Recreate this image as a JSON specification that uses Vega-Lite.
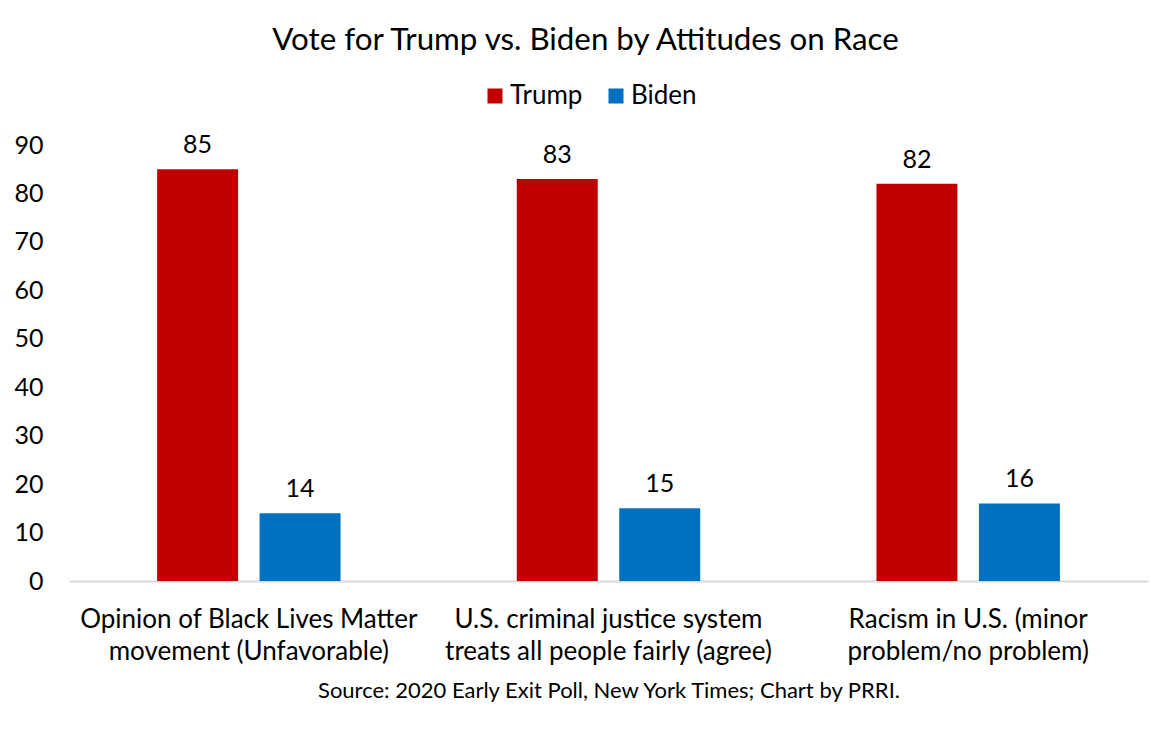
{
  "$schema": "https://vega.github.io/schema/vega-lite/v6.json",
  "width": 1079,
  "height": 436,
  "autosize": {"type": "none"},
  "padding": {"left": 69, "top": 145, "right": 24, "bottom": 149},
  "background": "white",
  "config": {"view": {"stroke": null}},
  "title": {
    "text": "Vote for Trump vs. Biden by Attitudes on Race",
    "font": "Lato",
    "fontSize": 31.3,
    "fontWeight": "normal",
    "color": "#000000",
    "anchor": "middle",
    "dx": -23,
    "offset": 27
  },
  "data": {
    "values": [
      {"question": "Opinion of Black Lives Matter movement (Unfavorable)", "candidate": "Trump", "pct": 85},
      {"question": "Opinion of Black Lives Matter movement (Unfavorable)", "candidate": "Biden", "pct": 14},
      {"question": "U.S. criminal justice system treats all people fairly (agree)", "candidate": "Trump", "pct": 83},
      {"question": "U.S. criminal justice system treats all people fairly (agree)", "candidate": "Biden", "pct": 15},
      {"question": "Racism in U.S. (minor problem/no problem)", "candidate": "Trump", "pct": 82},
      {"question": "Racism in U.S. (minor problem/no problem)", "candidate": "Biden", "pct": 16}
    ]
  },
  "encoding": {
    "x": {
      "field": "question",
      "type": "nominal",
      "sort": [
        "Opinion of Black Lives Matter movement (Unfavorable)",
        "U.S. criminal justice system treats all people fairly (agree)",
        "Racism in U.S. (minor problem/no problem)"
      ],
      "scale": {"paddingInner": 0.49, "paddingOuter": 0.245},
      "title": "Source: 2020 Early Exit Poll, New York Times; Chart by PRRI.",
      "axis": {
        "labelAngle": 0,
        "labelFont": "Lato",
        "labelFontSize": 26,
        "labelColor": "#000000",
        "labelLineHeight": 32,
        "labelPadding": 25,
        "labelLimit": 0,
        "ticks": false,
        "domainColor": "#D9D9D9",
        "domainWidth": 2,
        "titleFont": "Lato",
        "titleFontSize": 22,
        "titleFontWeight": "normal",
        "titleColor": "#000000",
        "titlePadding": 16,
        "labelExpr": "datum.value == 'Opinion of Black Lives Matter movement (Unfavorable)' ? ['Opinion of Black Lives Matter', 'movement (Unfavorable)'] : datum.value == 'U.S. criminal justice system treats all people fairly (agree)' ? ['U.S. criminal justice system', 'treats all people fairly (agree)'] : ['Racism in U.S. (minor', 'problem/no problem)']"
      }
    },
    "xOffset": {
      "field": "candidate",
      "type": "nominal",
      "sort": ["Trump", "Biden"],
      "scale": {"paddingInner": 0.21}
    },
    "y": {
      "field": "pct",
      "type": "quantitative",
      "scale": {"domain": [0, 90]},
      "axis": {
        "values": [0, 10, 20, 30, 40, 50, 60, 70, 80, 90],
        "title": null,
        "grid": false,
        "domain": false,
        "ticks": false,
        "labelFont": "Lato",
        "labelFontSize": 25,
        "labelColor": "#000000",
        "labelPadding": 26
      }
    }
  },
  "layer": [
    {
      "mark": {"type": "bar"},
      "encoding": {
        "color": {
          "field": "candidate",
          "type": "nominal",
          "sort": ["Trump", "Biden"],
          "scale": {"domain": ["Trump", "Biden"], "range": ["#C00000", "#0070C0"]},
          "legend": {
            "title": null,
            "orient": "none",
            "direction": "horizontal",
            "legendX": 413,
            "legendY": -62,
            "padding": 0,
            "symbolType": "square",
            "symbolSize": 225,
            "symbolStrokeWidth": 0,
            "symbolOpacity": 1,
            "labelFont": "Lato",
            "labelFontSize": 26,
            "labelColor": "#000000",
            "labelOffset": 2,
            "columnPadding": 20
          }
        }
      }
    },
    {
      "mark": {
        "type": "text",
        "baseline": "alphabetic",
        "dy": -16,
        "font": "Lato",
        "fontSize": 25,
        "color": "#000000"
      },
      "encoding": {"text": {"field": "pct", "type": "quantitative"}}
    }
  ]
}
